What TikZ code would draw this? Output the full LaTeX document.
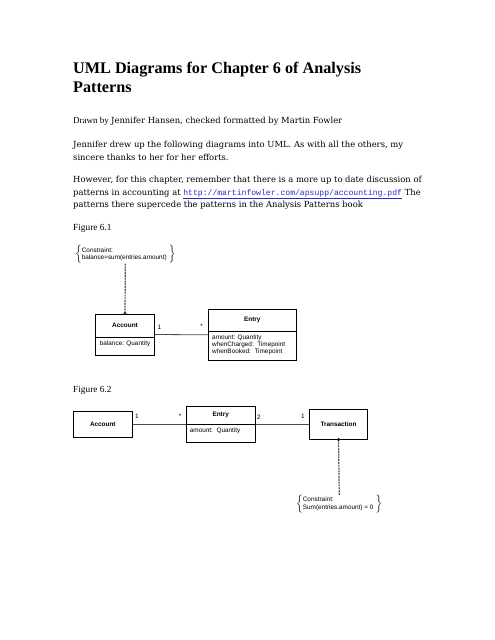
\documentclass[tikz,border=0pt]{standalone}
\usepackage{fontspec}
\setmainfont{Liberation Serif}
\setsansfont{Liberation Sans}
\setmonofont{Liberation Mono}
\newfontfamily\bodyfont{DejaVu Serif}
\usetikzlibrary{arrows.meta, positioning}
\definecolor{linkBlue}{HTML}{2B2BC8}
\definecolor{noteGray}{HTML}{555555}

\tikzset{
  heading/.style={anchor=base west, inner sep=0pt, font=\bfseries\fontsize{16.2}{19}\selectfont},
  line/.style={anchor=base west, inner sep=0pt, font=\bodyfont\fontsize{8.4}{9.5}\selectfont},
  figlabel/.style={anchor=base west, inner sep=0pt, font=\fontsize{9.3}{11}\selectfont},
  classbox/.style={draw, line width=0.9pt, inner sep=0pt},
  cname/.style={font=\sffamily\bfseries\fontsize{6.4}{7.5}\selectfont, inner sep=0pt},
  attr/.style={anchor=north west, align=left, inner sep=0pt,
               font=\sffamily\fontsize{6.4}{7.3}\selectfont},
  mult/.style={font=\sffamily\fontsize{6.4}{7.5}\selectfont, inner sep=0pt},
  assoc/.style={draw=black!70, line width=0.8pt},
  note/.style={inner sep=0pt, font=\sffamily\fontsize{6.4}{7.3}\selectfont},
  anchorline/.style={draw=noteGray, line width=1.2pt, dash pattern=on 2pt off 0.8pt,
                     -{Circle[open, length=3pt, width=3pt, line width=0.6pt, black]}}
}

\begin{document}
\begin{tikzpicture}[x=1pt, y=-1pt]
  \useasboundingbox (0,0) rectangle (495,640);
  \fill[white] (0,0) rectangle (495,640);

  % heading and text
  \node[heading] (title) at (73,73.3) {UML Diagrams for Chapter 6 of Analysis};
  \node[heading] (title2) at (73,92.3) {Patterns};
  \node[line] (drawn) at (73,123.3)
    {{\rmfamily\fontsize{9}{9}\selectfont Drawn by }Jennifer Hansen, checked formatted by Martin Fowler};
  \node[line] (para1a) at (73,147.3)
    {Jennifer drew up the following diagrams into UML. As with all the others, my};
  \node[line] (para1b) at (73,160)
    {sincere thanks to her for her efforts.};
  \node[line] (para2a) at (73,182.3)
    {However, for this chapter, remember that there is a more up to date discussion of};
  \node[line] (para2b) at (73,195)
    {patterns in accounting at {\color{linkBlue}\underline{\ttfamily\fontsize{8.1}{9}\selectfont http://martinfowler.com/apsupp/accounting.pdf}}\ The};
  \node[line] (para2c) at (73,207.3)
    {patterns there supercede the patterns in the Analysis Patterns book};

  % Figure 6.1
  \node[figlabel] (fig1) at (73,230) {Figure 6.1};
  \node[note, anchor=west] (note1) at (75,254.5)
    {$\left\{\begin{tabular}{@{}l@{}}Constraint:\\balance=sum(entries.amount)\end{tabular}\;\right\}$};
  \node[classbox, minimum width=58.6pt, minimum height=41pt] (acct) at (125,334.5) {};
  \draw[line width=0.6pt] (95.7,337.3) -- (154.3,337.3);
  \node[cname] (acctname) at (125,325.7) {Account};
  \node[attr] (acctattr) at (99.7,340.5) {balance: Quantity};

  \node[classbox, minimum width=88pt, minimum height=51pt] (entry) at (252.3,334.8) {};
  \draw[line width=0.6pt] (208.3,331) -- (296.3,331);
  \node[cname] (entryname) at (252.3,320) {Entry};
  \node[attr] (entryattr) at (212,334.5)
    {amount: Quantity\\whenCharged:\ \ Timepoint\\whenBooked:\ \ Timepoint};

  \draw[assoc] (acct.east) -- (entry.west);
  \node[mult] (m1) at (159.3,327.3) {1};
  \node[mult] (m2) at (201.7,326.5) {*};
  \draw[anchorline] (note1.south) -- ([yshift=-1.5pt]acct.north);

  % Figure 6.2
  \node[figlabel] (fig2) at (73,392.5) {Figure 6.2};
  \node[classbox, minimum width=59pt, minimum height=26pt] (acct2) at (102.8,424.3) {};
  \node[cname] at (acct2) {Account};

  \node[classbox, minimum width=68.7pt, minimum height=35.6pt] (entry2) at (220.7,424.5) {};
  \draw[line width=0.6pt] (186.3,424) -- (255,424);
  \node[cname] (entry2name) at (220.7,415.3) {Entry};
  \node[attr] (entry2attr) at (189.7,427.8) {amount:\ \ Quantity};

  \node[classbox, minimum width=58.4pt, minimum height=29.3pt] (trans) at (338.5,424.5) {};
  \node[cname] at (trans) {Transaction};

  \draw[assoc] (acct2.east) -- (entry2.west |- acct2.east);
  \draw[assoc] (entry2.east |- acct2.east) -- (trans.west |- acct2.east);
  \node[mult] (n1) at (137,416.7) {1};
  \node[mult] (n2) at (180,416) {*};
  \node[mult] (n3) at (259,417.3) {2};
  \node[mult] (n4) at (303,416.7) {1};

  \node[note, anchor=west] (note2) at (296,504)
    {$\left\{\begin{tabular}{@{}l@{}}Constraint:\\Sum(entries.amount) = 0\end{tabular}\;\right\}$};
  \draw[anchorline] (note2.north) -- ([yshift=1.5pt]trans.south);
\end{tikzpicture}
\end{document}
